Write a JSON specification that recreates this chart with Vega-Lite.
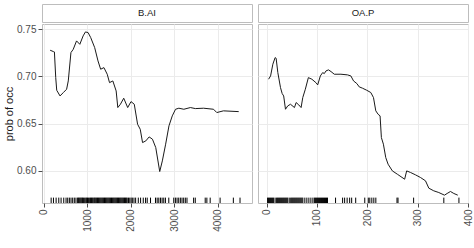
{
  "$schema": "https://vega.github.io/schema/vega-lite/v6.json",
  "padding": {"left": 3, "top": 3, "right": 2, "bottom": 5},
  "config": {
    "font": "Liberation Sans",
    "view": {"stroke": "#bdbdbd", "strokeWidth": 1},
    "axis": {"gridColor": "#ebebeb", "gridWidth": 1, "labelColor": "#4d4d4d", "labelFontSize": 10, "tickColor": "#4d4d4d", "tickSize": 4, "domain": false, "titleFontWeight": "normal", "titleColor": "#1a1a1a", "titleFontSize": 11, "labelPadding": 2}
  },
  "datasets": {
    "curve": [
      {"panel": "B.AI", "x": 152, "y": 0.7278}, {"panel": "B.AI", "x": 227, "y": 0.7264}, {"panel": "B.AI", "x": 250, "y": 0.726}, {"panel": "B.AI", "x": 280, "y": 0.6988}, {"panel": "B.AI", "x": 303, "y": 0.6854}, {"panel": "B.AI", "x": 379, "y": 0.6794}, {"panel": "B.AI", "x": 455, "y": 0.683}, {"panel": "B.AI", "x": 530, "y": 0.6865}, {"panel": "B.AI", "x": 568, "y": 0.6953}, {"panel": "B.AI", "x": 629, "y": 0.7253}, {"panel": "B.AI", "x": 682, "y": 0.7288}, {"panel": "B.AI", "x": 758, "y": 0.7377}, {"panel": "B.AI", "x": 833, "y": 0.7341}, {"panel": "B.AI", "x": 909, "y": 0.743}, {"panel": "B.AI", "x": 962, "y": 0.7472}, {"panel": "B.AI", "x": 1023, "y": 0.7465}, {"panel": "B.AI", "x": 1083, "y": 0.7412}, {"panel": "B.AI", "x": 1174, "y": 0.7306}, {"panel": "B.AI", "x": 1250, "y": 0.7165}, {"panel": "B.AI", "x": 1311, "y": 0.7077}, {"panel": "B.AI", "x": 1386, "y": 0.7094}, {"panel": "B.AI", "x": 1462, "y": 0.7024}, {"panel": "B.AI", "x": 1515, "y": 0.6935}, {"panel": "B.AI", "x": 1591, "y": 0.6953}, {"panel": "B.AI", "x": 1667, "y": 0.6847}, {"panel": "B.AI", "x": 1705, "y": 0.6671}, {"panel": "B.AI", "x": 1765, "y": 0.6706}, {"panel": "B.AI", "x": 1841, "y": 0.677}, {"panel": "B.AI", "x": 1932, "y": 0.6671}, {"panel": "B.AI", "x": 2008, "y": 0.6734}, {"panel": "B.AI", "x": 2083, "y": 0.6706}, {"panel": "B.AI", "x": 2159, "y": 0.6494}, {"panel": "B.AI", "x": 2220, "y": 0.6441}, {"panel": "B.AI", "x": 2273, "y": 0.63}, {"panel": "B.AI", "x": 2348, "y": 0.6318}, {"panel": "B.AI", "x": 2424, "y": 0.636}, {"panel": "B.AI", "x": 2500, "y": 0.6336}, {"panel": "B.AI", "x": 2576, "y": 0.6247}, {"panel": "B.AI", "x": 2667, "y": 0.5993}, {"panel": "B.AI", "x": 2727, "y": 0.6106}, {"panel": "B.AI", "x": 2803, "y": 0.6283}, {"panel": "B.AI", "x": 2879, "y": 0.6477}, {"panel": "B.AI", "x": 2955, "y": 0.6583}, {"panel": "B.AI", "x": 3030, "y": 0.6653}, {"panel": "B.AI", "x": 3106, "y": 0.6664}, {"panel": "B.AI", "x": 3220, "y": 0.6653}, {"panel": "B.AI", "x": 3371, "y": 0.6671}, {"panel": "B.AI", "x": 3485, "y": 0.666}, {"panel": "B.AI", "x": 3674, "y": 0.6664}, {"panel": "B.AI", "x": 3902, "y": 0.6653}, {"panel": "B.AI", "x": 3977, "y": 0.6618}, {"panel": "B.AI", "x": 4129, "y": 0.6636}, {"panel": "B.AI", "x": 4480, "y": 0.6628},
      {"panel": "OA.P", "x": 4, "y": 0.6971}, {"panel": "OA.P", "x": 8, "y": 0.7006}, {"panel": "OA.P", "x": 12.5, "y": 0.713}, {"panel": "OA.P", "x": 17, "y": 0.72}, {"panel": "OA.P", "x": 19, "y": 0.7193}, {"panel": "OA.P", "x": 22.4, "y": 0.7041}, {"panel": "OA.P", "x": 27.7, "y": 0.6882}, {"panel": "OA.P", "x": 31, "y": 0.6819}, {"panel": "OA.P", "x": 34, "y": 0.6794}, {"panel": "OA.P", "x": 37.6, "y": 0.6653}, {"panel": "OA.P", "x": 42, "y": 0.6688}, {"panel": "OA.P", "x": 47.5, "y": 0.6706}, {"panel": "OA.P", "x": 55.4, "y": 0.6671}, {"panel": "OA.P", "x": 58.7, "y": 0.6724}, {"panel": "OA.P", "x": 64, "y": 0.6699}, {"panel": "OA.P", "x": 68.6, "y": 0.6671}, {"panel": "OA.P", "x": 71.9, "y": 0.6777}, {"panel": "OA.P", "x": 77, "y": 0.6865}, {"panel": "OA.P", "x": 83, "y": 0.6988}, {"panel": "OA.P", "x": 90, "y": 0.6971}, {"panel": "OA.P", "x": 98, "y": 0.6935}, {"panel": "OA.P", "x": 101.5, "y": 0.6911}, {"panel": "OA.P", "x": 106.8, "y": 0.7006}, {"panel": "OA.P", "x": 111.4, "y": 0.7041}, {"panel": "OA.P", "x": 114.7, "y": 0.7031}, {"panel": "OA.P", "x": 118, "y": 0.7059}, {"panel": "OA.P", "x": 123, "y": 0.707}, {"panel": "OA.P", "x": 128, "y": 0.7052}, {"panel": "OA.P", "x": 134.5, "y": 0.7024}, {"panel": "OA.P", "x": 147.7, "y": 0.7024}, {"panel": "OA.P", "x": 160.8, "y": 0.7017}, {"panel": "OA.P", "x": 167.4, "y": 0.7006}, {"panel": "OA.P", "x": 172.7, "y": 0.6953}, {"panel": "OA.P", "x": 179.3, "y": 0.6925}, {"panel": "OA.P", "x": 184, "y": 0.689}, {"panel": "OA.P", "x": 190.5, "y": 0.6876}, {"panel": "OA.P", "x": 199, "y": 0.6854}, {"panel": "OA.P", "x": 207, "y": 0.683}, {"panel": "OA.P", "x": 212.3, "y": 0.6777}, {"panel": "OA.P", "x": 216.9, "y": 0.6636}, {"panel": "OA.P", "x": 221.5, "y": 0.66}, {"panel": "OA.P", "x": 225.4, "y": 0.6583}, {"panel": "OA.P", "x": 228, "y": 0.6353}, {"panel": "OA.P", "x": 232, "y": 0.6283}, {"panel": "OA.P", "x": 236.7, "y": 0.6141}, {"panel": "OA.P", "x": 241.3, "y": 0.6071}, {"panel": "OA.P", "x": 249.8, "y": 0.6}, {"panel": "OA.P", "x": 259.7, "y": 0.5965}, {"panel": "OA.P", "x": 274.2, "y": 0.5912}, {"panel": "OA.P", "x": 278.2, "y": 0.6}, {"panel": "OA.P", "x": 286, "y": 0.5983}, {"panel": "OA.P", "x": 295.8, "y": 0.5958}, {"panel": "OA.P", "x": 305.7, "y": 0.593}, {"panel": "OA.P", "x": 315.6, "y": 0.5895}, {"panel": "OA.P", "x": 322.2, "y": 0.5817}, {"panel": "OA.P", "x": 332, "y": 0.5789}, {"panel": "OA.P", "x": 342, "y": 0.5771}, {"panel": "OA.P", "x": 353.3, "y": 0.5743}, {"panel": "OA.P", "x": 358.6, "y": 0.5761}, {"panel": "OA.P", "x": 365.2, "y": 0.5782}, {"panel": "OA.P", "x": 371.8, "y": 0.5761}, {"panel": "OA.P", "x": 379.7, "y": 0.5743}
    ],
    "rug": [
      {"panel": "B.AI", "r": 175}, {"panel": "B.AI", "r": 228}, {"panel": "B.AI", "r": 289}, {"panel": "B.AI", "r": 350}, {"panel": "B.AI", "r": 403}, {"panel": "B.AI", "r": 464}, {"panel": "B.AI", "r": 517}, {"panel": "B.AI", "r": 555}, {"panel": "B.AI", "r": 593}, {"panel": "B.AI", "r": 631}, {"panel": "B.AI", "r": 669}, {"panel": "B.AI", "r": 707}, {"panel": "B.AI", "r": 745}, {"panel": "B.AI", "r": 783}, {"panel": "B.AI", "r": 800}, {"panel": "B.AI", "r": 820}, {"panel": "B.AI", "r": 840}, {"panel": "B.AI", "r": 860}, {"panel": "B.AI", "r": 880}, {"panel": "B.AI", "r": 897}, {"panel": "B.AI", "r": 920}, {"panel": "B.AI", "r": 945}, {"panel": "B.AI", "r": 970}, {"panel": "B.AI", "r": 990}, {"panel": "B.AI", "r": 1010}, {"panel": "B.AI", "r": 1035}, {"panel": "B.AI", "r": 1060}, {"panel": "B.AI", "r": 1080}, {"panel": "B.AI", "r": 1100}, {"panel": "B.AI", "r": 1120}, {"panel": "B.AI", "r": 1140}, {"panel": "B.AI", "r": 1163}, {"panel": "B.AI", "r": 1180}, {"panel": "B.AI", "r": 1200}, {"panel": "B.AI", "r": 1220}, {"panel": "B.AI", "r": 1240}, {"panel": "B.AI", "r": 1260}, {"panel": "B.AI", "r": 1280}, {"panel": "B.AI", "r": 1300}, {"panel": "B.AI", "r": 1320}, {"panel": "B.AI", "r": 1340}, {"panel": "B.AI", "r": 1360}, {"panel": "B.AI", "r": 1380}, {"panel": "B.AI", "r": 1400}, {"panel": "B.AI", "r": 1420}, {"panel": "B.AI", "r": 1440}, {"panel": "B.AI", "r": 1460}, {"panel": "B.AI", "r": 1480}, {"panel": "B.AI", "r": 1500}, {"panel": "B.AI", "r": 1520}, {"panel": "B.AI", "r": 1540}, {"panel": "B.AI", "r": 1560}, {"panel": "B.AI", "r": 1580}, {"panel": "B.AI", "r": 1600}, {"panel": "B.AI", "r": 1620}, {"panel": "B.AI", "r": 1640}, {"panel": "B.AI", "r": 1660}, {"panel": "B.AI", "r": 1680}, {"panel": "B.AI", "r": 1700}, {"panel": "B.AI", "r": 1720}, {"panel": "B.AI", "r": 1740}, {"panel": "B.AI", "r": 1760}, {"panel": "B.AI", "r": 1780}, {"panel": "B.AI", "r": 1800}, {"panel": "B.AI", "r": 1820}, {"panel": "B.AI", "r": 1840}, {"panel": "B.AI", "r": 1860}, {"panel": "B.AI", "r": 1880}, {"panel": "B.AI", "r": 1900}, {"panel": "B.AI", "r": 1920}, {"panel": "B.AI", "r": 1950}, {"panel": "B.AI", "r": 1980}, {"panel": "B.AI", "r": 2010}, {"panel": "B.AI", "r": 2038}, {"panel": "B.AI", "r": 2076}, {"panel": "B.AI", "r": 2114}, {"panel": "B.AI", "r": 2175}, {"panel": "B.AI", "r": 2228}, {"panel": "B.AI", "r": 2289}, {"panel": "B.AI", "r": 2342}, {"panel": "B.AI", "r": 2380}, {"panel": "B.AI", "r": 2456}, {"panel": "B.AI", "r": 2570}, {"panel": "B.AI", "r": 2608}, {"panel": "B.AI", "r": 2646}, {"panel": "B.AI", "r": 2684}, {"panel": "B.AI", "r": 2722}, {"panel": "B.AI", "r": 2760}, {"panel": "B.AI", "r": 2798}, {"panel": "B.AI", "r": 2875}, {"panel": "B.AI", "r": 2989}, {"panel": "B.AI", "r": 3027}, {"panel": "B.AI", "r": 3065}, {"panel": "B.AI", "r": 3103}, {"panel": "B.AI", "r": 3141}, {"panel": "B.AI", "r": 3179}, {"panel": "B.AI", "r": 3217}, {"panel": "B.AI", "r": 3255}, {"panel": "B.AI", "r": 3293}, {"panel": "B.AI", "r": 3445}, {"panel": "B.AI", "r": 3483}, {"panel": "B.AI", "r": 3711}, {"panel": "B.AI", "r": 3749}, {"panel": "B.AI", "r": 3825}, {"panel": "B.AI", "r": 4053}, {"panel": "B.AI", "r": 4357}, {"panel": "B.AI", "r": 4510},
      {"panel": "OA.P", "r": 2}, {"panel": "OA.P", "r": 4}, {"panel": "OA.P", "r": 6}, {"panel": "OA.P", "r": 8}, {"panel": "OA.P", "r": 10}, {"panel": "OA.P", "r": 12}, {"panel": "OA.P", "r": 14}, {"panel": "OA.P", "r": 17}, {"panel": "OA.P", "r": 20}, {"panel": "OA.P", "r": 22}, {"panel": "OA.P", "r": 24}, {"panel": "OA.P", "r": 26}, {"panel": "OA.P", "r": 28}, {"panel": "OA.P", "r": 30}, {"panel": "OA.P", "r": 32}, {"panel": "OA.P", "r": 34}, {"panel": "OA.P", "r": 36}, {"panel": "OA.P", "r": 38}, {"panel": "OA.P", "r": 40}, {"panel": "OA.P", "r": 42}, {"panel": "OA.P", "r": 45}, {"panel": "OA.P", "r": 48}, {"panel": "OA.P", "r": 50}, {"panel": "OA.P", "r": 52}, {"panel": "OA.P", "r": 54}, {"panel": "OA.P", "r": 56}, {"panel": "OA.P", "r": 58}, {"panel": "OA.P", "r": 60}, {"panel": "OA.P", "r": 62}, {"panel": "OA.P", "r": 64}, {"panel": "OA.P", "r": 66}, {"panel": "OA.P", "r": 68}, {"panel": "OA.P", "r": 70}, {"panel": "OA.P", "r": 72}, {"panel": "OA.P", "r": 76}, {"panel": "OA.P", "r": 80}, {"panel": "OA.P", "r": 84}, {"panel": "OA.P", "r": 88}, {"panel": "OA.P", "r": 92}, {"panel": "OA.P", "r": 95}, {"panel": "OA.P", "r": 97}, {"panel": "OA.P", "r": 99}, {"panel": "OA.P", "r": 101}, {"panel": "OA.P", "r": 103}, {"panel": "OA.P", "r": 105}, {"panel": "OA.P", "r": 107}, {"panel": "OA.P", "r": 109}, {"panel": "OA.P", "r": 111}, {"panel": "OA.P", "r": 113}, {"panel": "OA.P", "r": 115}, {"panel": "OA.P", "r": 117}, {"panel": "OA.P", "r": 119}, {"panel": "OA.P", "r": 121}, {"panel": "OA.P", "r": 137}, {"panel": "OA.P", "r": 151}, {"panel": "OA.P", "r": 155}, {"panel": "OA.P", "r": 160}, {"panel": "OA.P", "r": 165}, {"panel": "OA.P", "r": 169}, {"panel": "OA.P", "r": 177}, {"panel": "OA.P", "r": 195}, {"panel": "OA.P", "r": 202}, {"panel": "OA.P", "r": 205}, {"panel": "OA.P", "r": 209}, {"panel": "OA.P", "r": 213}, {"panel": "OA.P", "r": 217}, {"panel": "OA.P", "r": 259}, {"panel": "OA.P", "r": 261}, {"panel": "OA.P", "r": 292}, {"panel": "OA.P", "r": 352}, {"panel": "OA.P", "r": 382}
    ]
  },
  "spacing": 4,
  "hconcat": [
    {
      "spacing": 0,
      "vconcat": [
        {
          "width": 210, "height": 18,
          "view": {"stroke": "#bdbdbd", "strokeWidth": 1, "fill": "#ffffff"},
          "data": {"values": [{"panel": "B.AI"}]},
          "mark": {"type": "text", "fontSize": 9.5, "color": "#1a1a1a"},
          "encoding": {"text": {"field": "panel"}}
        },
        {
          "width": 210, "height": 179,
          "layer": [
            {
              "data": {"name": "curve"},
              "transform": [{"filter": "datum.panel === 'B.AI'"}],
              "mark": {"type": "line", "color": "#1a1a1a", "strokeWidth": 1},
              "encoding": {
                "x": {"field": "x", "type": "quantitative", "scale": {"domain": [-35, 4785], "nice": false, "zero": false}, "axis": {"values": [0, 1000, 2000, 3000, 4000], "labelAngle": 270, "title": null, "format": "d"}},
                "y": {"field": "y", "type": "quantitative", "scale": {"domain": [0.566, 0.7556], "nice": false, "zero": false}, "axis": {"values": [0.6, 0.65, 0.7, 0.75], "format": ".2f", "title": "prob of occ", "titlePadding": 2, "titleFontWeight": "normal", "titleFont": "Liberation Sans"}}
              }
            },
            {
              "data": {"name": "rug"},
              "transform": [{"filter": "datum.panel === 'B.AI'"}],
              "mark": {"type": "rule", "color": "#000000", "strokeWidth": 1},
              "encoding": {
                "x": {"field": "r", "type": "quantitative"},
                "y": {"datum": 0.566},
                "y2": {"datum": 0.5717}
              }
            }
          ]
        }
      ]
    },
    {
      "spacing": 0,
      "vconcat": [
        {
          "width": 210, "height": 18,
          "view": {"stroke": "#bdbdbd", "strokeWidth": 1, "fill": "#ffffff"},
          "data": {"values": [{"panel": "OA.P"}]},
          "mark": {"type": "text", "fontSize": 9.5, "color": "#1a1a1a"},
          "encoding": {"text": {"field": "panel"}}
        },
        {
          "width": 210, "height": 179,
          "layer": [
            {
              "data": {"name": "curve"},
              "transform": [{"filter": "datum.panel === 'OA.P'"}],
              "mark": {"type": "line", "color": "#1a1a1a", "strokeWidth": 1},
              "encoding": {
                "x": {"field": "x", "type": "quantitative", "scale": {"domain": [-17, 400], "nice": false, "zero": false}, "axis": {"values": [0, 100, 200, 300, 400], "labelAngle": 270, "title": null}},
                "y": {"field": "y", "type": "quantitative", "scale": {"domain": [0.566, 0.7556], "nice": false, "zero": false}, "axis": {"values": [0.6, 0.65, 0.7, 0.75], "labels": false, "ticks": false, "title": null}}
              }
            },
            {
              "data": {"name": "rug"},
              "transform": [{"filter": "datum.panel === 'OA.P'"}],
              "mark": {"type": "rule", "color": "#000000", "strokeWidth": 1},
              "encoding": {
                "x": {"field": "r", "type": "quantitative"},
                "y": {"datum": 0.566},
                "y2": {"datum": 0.5717}
              }
            }
          ]
        }
      ]
    }
  ]
}
